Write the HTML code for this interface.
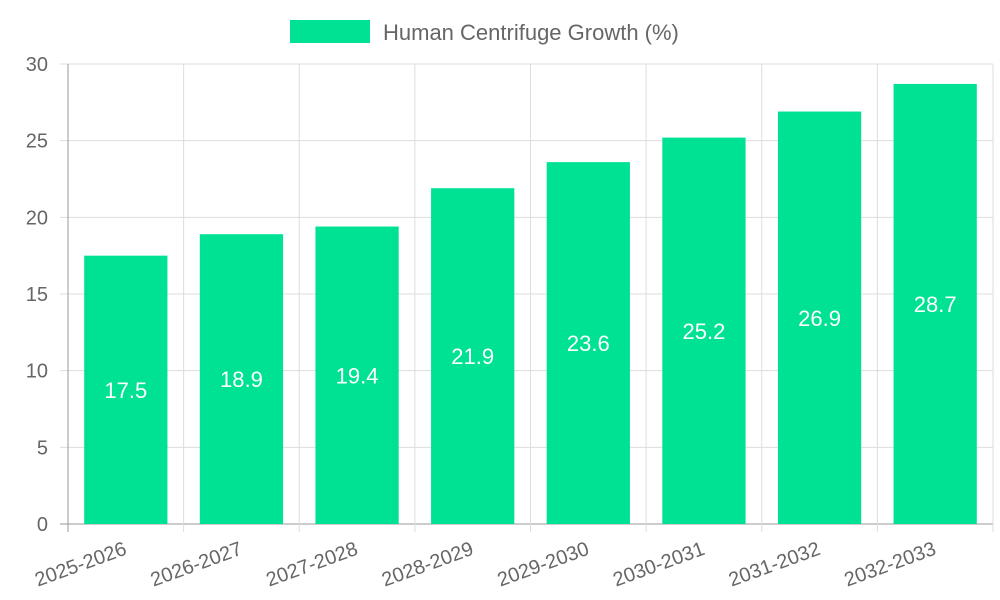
<!DOCTYPE html>
<html><head><meta charset="utf-8"><style>
body{margin:0;background:#fff;}
svg{display:block;font-family:"Liberation Sans",Arial,sans-serif;}
</style></head><body>
<svg id="chart" width="1000" height="600">
<g>
<rect x="290" y="20" width="80" height="23" fill="#00e293"/>
<text x="383" y="40" font-size="22" fill="#666">Human Centrifuge Growth (%)</text>
</g>
<g id="grid"></g>
<g id="bars"></g>
<g id="axes"></g>
</svg>
<script>
const categories=["2025-2026","2026-2027","2027-2028","2028-2029","2029-2030","2030-2031","2031-2032","2032-2033"];
const values=[17.5,18.9,19.4,21.9,23.6,25.2,26.9,28.7];
const yTicks=[0,5,10,15,20,25,30];
const NS="http://www.w3.org/2000/svg";
const L=68,R=993,T=64,B=524,yMax=30;
const band=(R-L)/categories.length;
const y=v=>B-(v/yMax)*(B-T);
const xC=i=>L+band*(i+0.5);
function mk(tag,attrs,parent,text){const e=document.createElementNS(NS,tag);for(const k in attrs)e.setAttribute(k,attrs[k]);if(text!==undefined)e.textContent=text;parent.appendChild(e);return e;}
const grid=document.getElementById('grid'),bars=document.getElementById('bars'),axes=document.getElementById('axes');
yTicks.forEach(t=>{
 const ln=mk('line',{x1:L-8,x2:R,y1:y(t),y2:y(t),stroke:t===0?'#999':'#ddd','stroke-width':1},grid);
 
 
 const tx=mk('text',{x:L-20,y:y(t)+7,'text-anchor':'end','font-size':20,fill:'#666'},axes,t);
 
 
});
for(let i=0;i<=categories.length;i++){
 const x=L+band*i;
 const ln=mk('line',{x1:x,x2:x,y1:T,y2:B+8,stroke:i===0?'#999':'#ddd','stroke-width':1},grid);
 
 
}
categories.forEach((c,i)=>{
 const w=band*0.72,v=values[i];
 const r=mk('rect',{x:xC(i)-w/2,y:y(v),width:w,height:B-y(v),fill:'#00e293'},bars);
 
 
 const lb=mk('text',{x:xC(i),y:(y(v)+B)/2+8,'text-anchor':'middle','font-size':22,fill:'#fff'},bars,v.toFixed(1));
 
 
 const xt=mk('text',{x:xC(i)+2,y:B+30,'text-anchor':'end','font-size':20,fill:'#666',transform:`rotate(-20 ${xC(i)+2} ${B+30})`},axes,c);
 
 
});
</script>
</body></html>
